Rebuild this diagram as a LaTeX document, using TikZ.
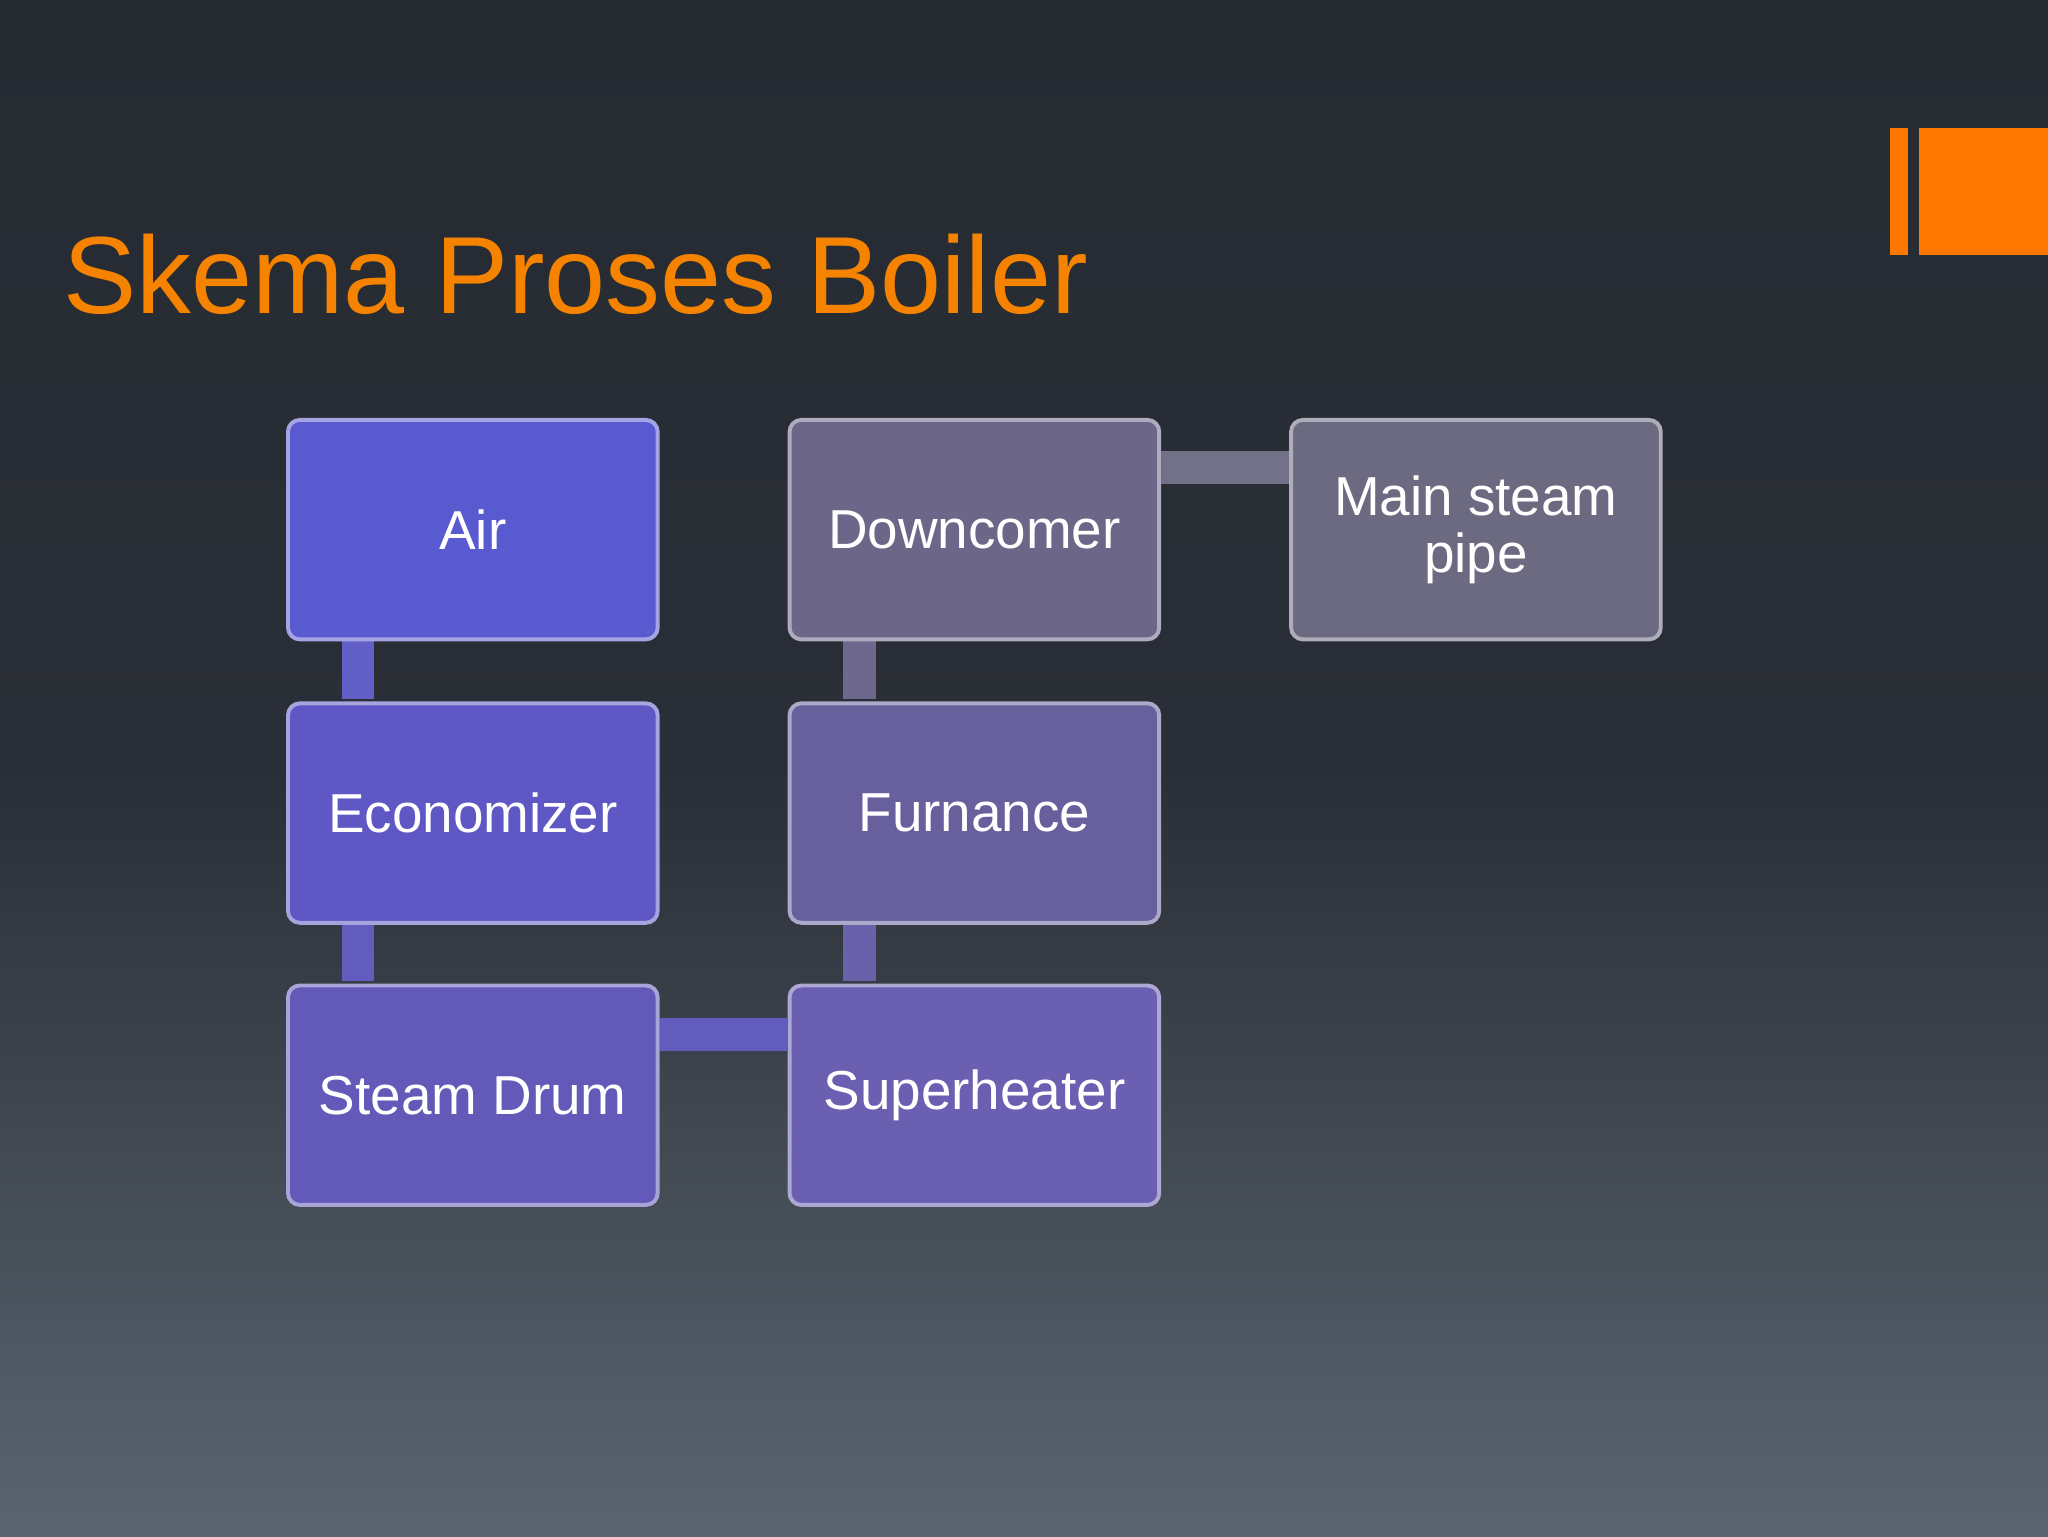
\documentclass[tikz,border=0pt]{standalone}
\usepackage{fontspec}
\setmainfont{Liberation Sans}
\begin{document}
\begin{tikzpicture}[x=1pt,y=-1pt,
 box/.style={draw=#1!55!white,line width=3pt,rounded corners=9pt,minimum width=283pt,minimum height=168pt,text=white,font=\fontsize{42}{44}\selectfont,align=center,anchor=north west,inner sep=0pt},
 bar/.style={line width=25pt}]
\shade[top color={rgb,255:red,38;green,42;blue,49},bottom color={rgb,255:red,90;green,101;blue,112},middle color={rgb,255:red,42;green,46;blue,54}] (0,0) rectangle (1568,1176);
\useasboundingbox (0,0) rectangle (1568,1176);
\fill[orange!95!red] (1447,98) rectangle (1461,195);
\fill[orange!95!red] (1469,98) rectangle (1568,195);
\node[anchor=west,text={rgb,255:red,245;green,131;blue,0},font=\fontsize{84}{90}\selectfont] (title) at (45,210) {Skema Proses Boiler};
\definecolor{cA}{RGB}{90,90,208}\definecolor{cE}{RGB}{95,87,196}\definecolor{cS}{RGB}{98,89,184}
\definecolor{cD}{RGB}{108,103,136}\definecolor{cF}{RGB}{103,96,156}\definecolor{cU}{RGB}{106,95,176}\definecolor{cM}{RGB}{108,106,128}
% connectors
\coordinate (a1) at (274,489);\coordinate (a2) at (274,535);
\coordinate (e1) at (274,705);\coordinate (e2) at (274,751);
\coordinate (d1) at (658,489);\coordinate (d2) at (658,535);
\coordinate (f1) at (658,705);\coordinate (f2) at (658,751);
\draw[bar,draw={rgb,255:red,98;green,96;blue,200}] (a1)--(a2);
\draw[bar,draw={rgb,255:red,98;green,92;blue,190}] (e1)--(e2);
\draw[bar,draw={rgb,255:red,110;green,104;blue,140}] (d1)--(d2);
\draw[bar,draw={rgb,255:red,105;green,98;blue,170}] (f1)--(f2);
\node[box=cA,fill=cA] (air) at (219,320) {Air};
\node[box=cE,fill=cE] (eco) at (219,537) {Economizer};
\node[box=cS,fill=cS] (sd) at (219,753) {Steam Drum};
\node[box=cD,fill=cD] (dc) at (603,320) {Downcomer};
\node[box=cF,fill=cF] (fu) at (603,537) {Furnance};
\node[box=cU,fill=cU] (su) at (603,753) {Superheater};
\node[box=cM,fill=cM] (ms) at (987,320) {Main steam\\pipe};
\draw[bar,draw={rgb,255:red,98;green,92;blue,190}] (sd.east|-0,792)--(su.west|-0,792);
\draw[bar,draw={rgb,255:red,115;green,113;blue,135}] (dc.east|-0,358)--(ms.west|-0,358);
\end{tikzpicture}
\end{document}
